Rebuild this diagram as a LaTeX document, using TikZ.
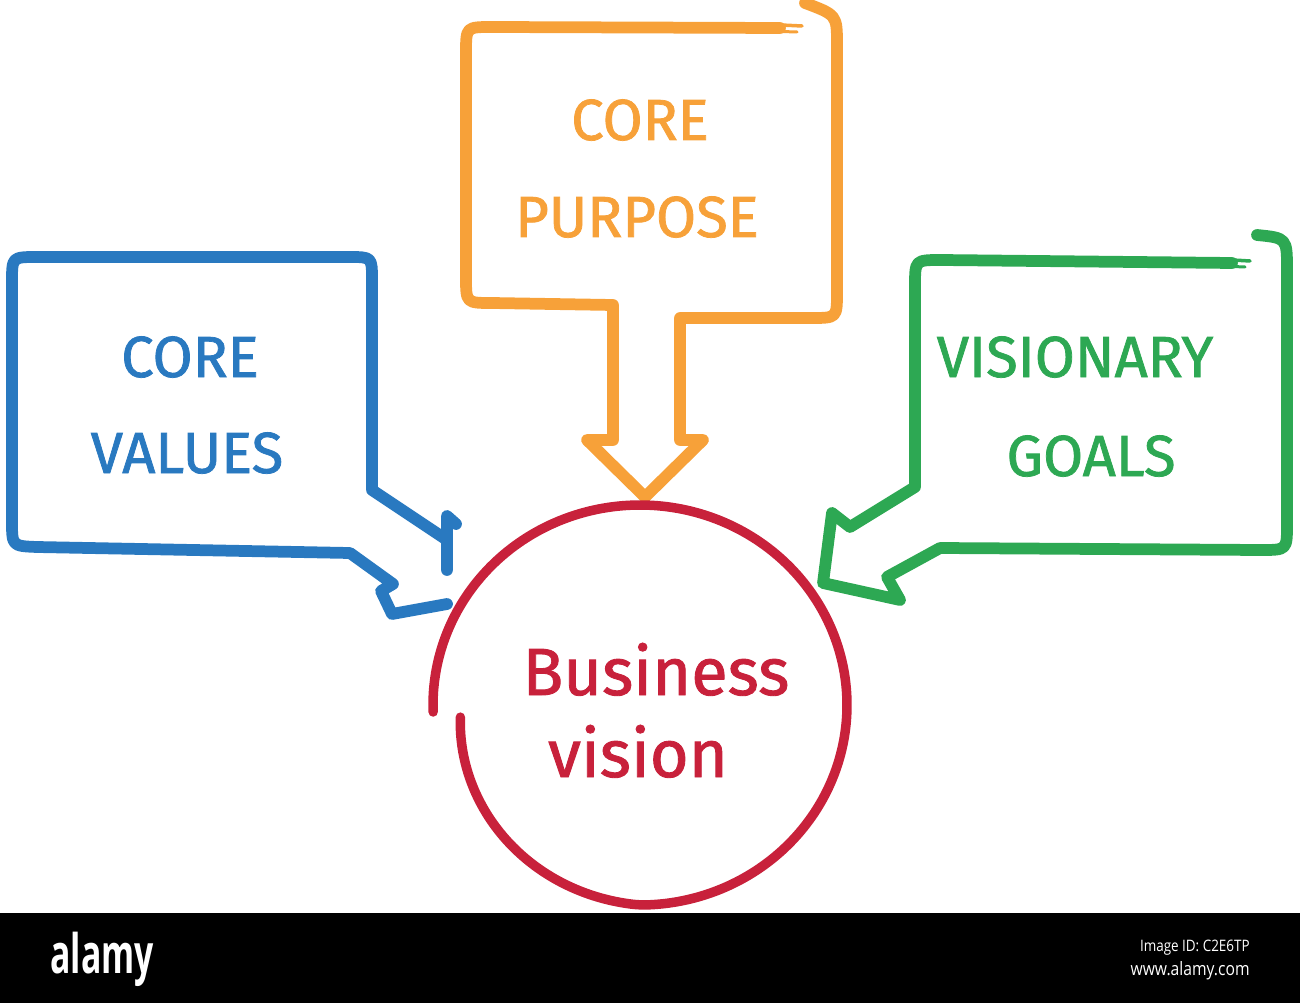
\documentclass[tikz,border=0pt]{standalone}
\usepackage{fontspec}
\setmainfont{Fira Sans}
\newfontfamily\handfont{Fira Sans}[FakeBold=1.3]
\newfontfamily\bannerfont{Open Sans}
\usepackage{tikz}

\definecolor{penblue}{RGB}{41,121,192}
\definecolor{penorange}{RGB}{247,161,57}
\definecolor{pengreen}{RGB}{45,168,83}
\definecolor{penred}{RGB}{200,33,59}

\begin{document}
\begin{tikzpicture}[x=0.02cm,y=-0.02cm,
	pen/.style={line width=0.235cm,line cap=round,line join=round},
	lbl/.style={font=\handfont\fontsize{33}{36}\selectfont,anchor=base},
	bigl/.style={font=\handfont\fontsize{38}{40}\selectfont,anchor=base}]
			\useasboundingbox (0,0) rectangle (1300,1003);
			
			\draw[pen,penblue] (447,540) -- (372,490) -- (372,280) .. controls (372,257) .. (349,257) -- (37,257) .. controls (12,257) .. (12,282) -- (12,521) .. controls (12,546) .. (37,547) -- (350,553) -- (393,584) -- (381,591) -- (392,614) -- (447,604);
			\draw[pen,penblue] (447,570) -- (447,516) -- (456,524);
			
			\draw[pen,penorange] (780,28) -- (492,27) .. controls (466,27) .. (466,53) -- (466,277) .. controls (466,303) .. (492,303) -- (613,305) -- (613,440) -- (587,440) -- (645,497) -- (703,440) -- (680,440) -- (680,318) -- (811,318) .. controls (837,318) .. (837,292) -- (837,45) .. controls (837,15) .. (805,3);
			\draw[penorange,line width=0.07cm,line cap=round] (760,24) -- (802,26);
			\draw[penorange,line width=0.06cm,line cap=round] (765,31) -- (797,32);
			
			\draw[pen,pengreen] (1232,263) -- (941,260) .. controls (915,260) .. (915,286) -- (915,487) -- (850,527) -- (832,513) -- (823,583) -- (900,600) -- (887,577) -- (940,548) -- (1261,550) .. controls (1287,550) .. (1287,524) -- (1287,270) .. controls (1287,238) .. (1257,235);
			\draw[pengreen,line width=0.07cm,line cap=round] (1215,259) -- (1250,261);
			\draw[pengreen,line width=0.06cm,line cap=round] (1220,266) -- (1245,267);
			
			\draw[pen,penred,line width=0.19cm] plot[smooth,variable=\t,domain=178:536,samples=120] ({640+207*(1-0.13*max(0,\t-450)/86)*cos(\t)},{705+200*(1-0.13*max(0,\t-450)/86)*sin(\t)});
			
			\node[lbl,penblue] (cvcore) at (190,377) {CORE};
			\node[lbl,penblue] (cvvalues) at (187,473) {VALUES};
			\node[lbl,penorange] (cpcore) at (640,140) {CORE};
			\node[lbl,penorange] (cppurpose) at (637,237) {PURPOSE};
			\node[lbl,pengreen] (vgvisionary) at (1075,377) {VISIONARY};
			\node[lbl,pengreen] (vggoals) at (1091,476) {GOALS};
			\node[bigl,penred] (bvbusiness) at (656,695) {Business};
			\node[bigl,penred] (bvvision) at (638,777) {vision};
			
			\fill[black] (0,913) rectangle (1300,1003);
			\node[anchor=base west,white,font=\bannerfont\bfseries\fontsize{31}{32}\selectfont,inner sep=0] (alamy) at (50,973) {\scalebox{0.62}[1]{alamy}};
			\node[anchor=base east,white,font=\bannerfont\fontsize{9}{10}\selectfont,inner sep=0] (imgid) at (1250,951) {\scalebox{0.85}[1]{Image ID: C2E6TP}};
			\node[anchor=base east,white,font=\bannerfont\fontsize{10.5}{12}\selectfont,inner sep=0] (www) at (1250,975) {\scalebox{0.85}[1]{www.alamy.com}};
\end{tikzpicture}
\end{document}
